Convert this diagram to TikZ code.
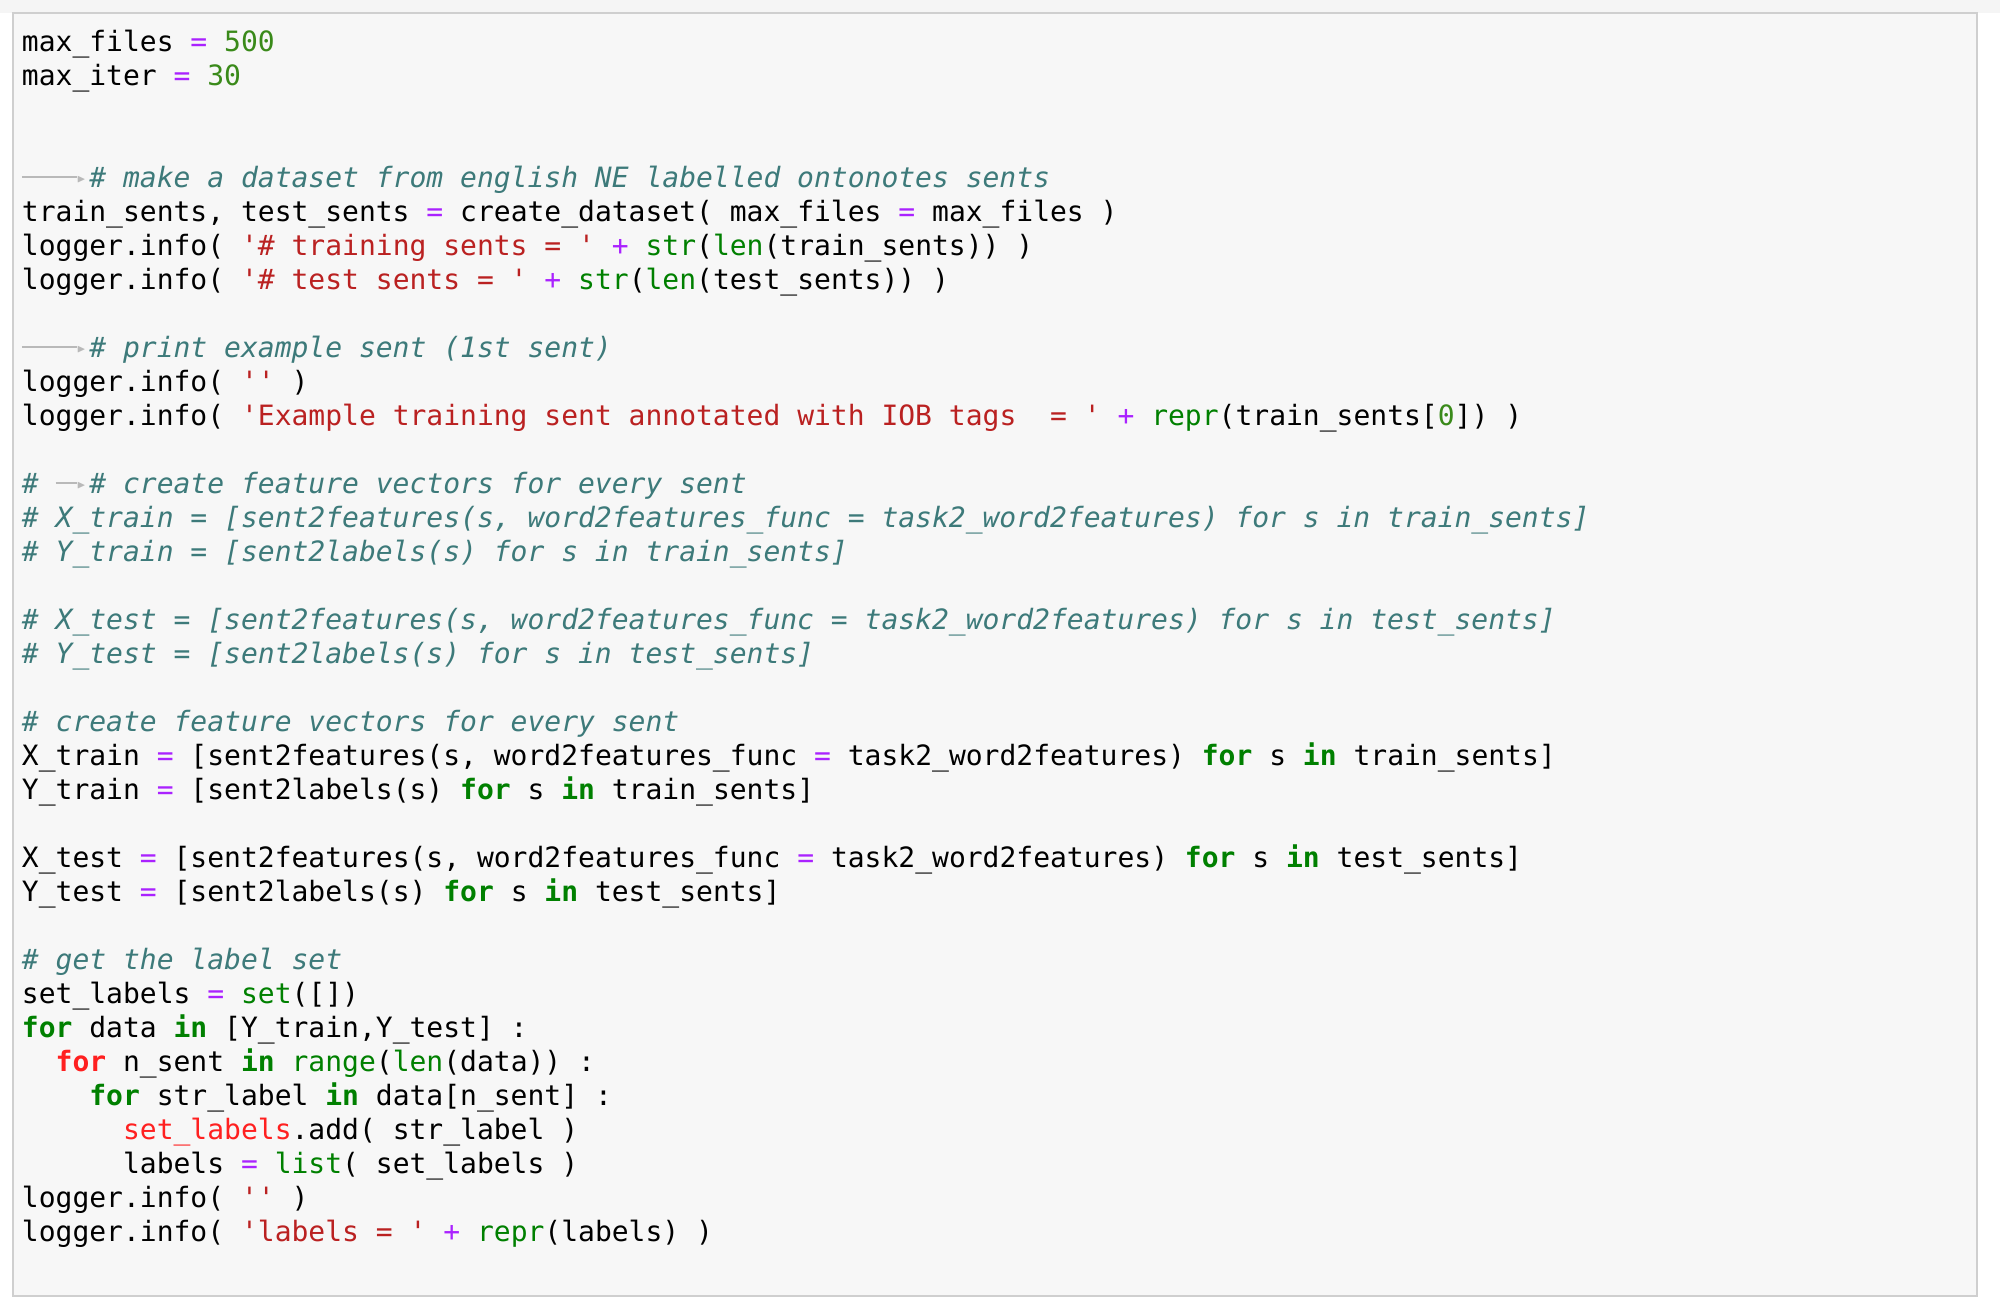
\documentclass[tikz,border=0pt]{standalone}
\usepackage{fontspec}
\setmonofont{DejaVu Sans Mono}
\definecolor{kwc}{HTML}{008000}
\definecolor{numc}{HTML}{3A8A1A}
\definecolor{opc}{HTML}{AA22FF}
\definecolor{strc}{HTML}{BA2121}
\definecolor{cmc}{HTML}{3D7A7A}
\definecolor{errc}{HTML}{FF2020}
\definecolor{boxbg}{HTML}{F7F7F7}
\definecolor{boxln}{HTML}{CFCFCF}
\newcommand\kw[1]{\textcolor{kwc}{\bfseries #1}}
\newcommand\bi[1]{\textcolor{kwc}{#1}}
\newcommand\nm[1]{\textcolor{numc}{#1}}
\newcommand\op[1]{\textcolor{opc}{#1}}
\newcommand\st[1]{\textcolor{strc}{#1}}
\newcommand\cm[1]{\textcolor{cmc}{\itshape #1}}
\newcommand\er[1]{\textcolor{errc}{#1}}
\newcommand\SP{\phantom{x}}
\newcommand\tabarr[1]{\makebox[#1em][l]{\textcolor{gray!55}{\rule[0.32em]{\dimexpr #1em - 0.45em\relax}{0.07em}\raisebox{0.18em}{\fontsize{9}{9}\selectfont$\blacktriangleright$}}}}
\usepackage{amssymb}
\begin{document}
\begin{tikzpicture}[x=1pt,y=-1pt,
  ln/.style={anchor=base west,inner sep=0pt,font=\ttfamily\fontsize{21.95}{26.7}\selectfont}]
\useasboundingbox (0,0) rectangle (1568,1018);
\fill[gray!8] (0,0) rectangle (1568,10);
\draw[boxln,fill=boxbg,line width=1.2pt] (10,10) rectangle (1550,1016);
\newcommand\LL[3]{\node[ln] (#1) at (17,{40+26.67*#2}) {#3};}
\LL{l0}{0}{max\_files \op{=} \nm{500}}
\LL{l1}{1}{max\_iter \op{=} \nm{30}}
\LL{l4}{4}{\tabarr{2.408}\cm{\# make a dataset from english NE labelled ontonotes sents}}
\LL{l5}{5}{train\_sents, test\_sents \op{=} create\_dataset( max\_files \op{=} max\_files )}
\LL{l6}{6}{logger.info( \st{'\# training sents = '} \op{+} \bi{str}(\bi{len}(train\_sents)) )}
\LL{l7}{7}{logger.info( \st{'\# test sents = '} \op{+} \bi{str}(\bi{len}(test\_sents)) )}
\LL{l9}{9}{\tabarr{2.408}\cm{\# print example sent (1st sent)}}
\LL{l10}{10}{logger.info( \st{''} )}
\LL{l11}{11}{logger.info( \st{'Example training sent annotated with IOB tags\SP\SP= '} \op{+} \bi{repr}(train\_sents[\nm{0}]) )}
\LL{l13}{13}{\cm{\# \tabarr{1.204}\# create feature vectors for every sent}}
\LL{l14}{14}{\cm{\# X\_train = [sent2features(s, word2features\_func = task2\_word2features) for s in train\_sents]}}
\LL{l15}{15}{\cm{\# Y\_train = [sent2labels(s) for s in train\_sents]}}
\LL{l17}{17}{\cm{\# X\_test = [sent2features(s, word2features\_func = task2\_word2features) for s in test\_sents]}}
\LL{l18}{18}{\cm{\# Y\_test = [sent2labels(s) for s in test\_sents]}}
\LL{l20}{20}{\cm{\# create feature vectors for every sent}}
\LL{l21}{21}{X\_train \op{=} [sent2features(s, word2features\_func \op{=} task2\_word2features) \kw{for} s \kw{in} train\_sents]}
\LL{l22}{22}{Y\_train \op{=} [sent2labels(s) \kw{for} s \kw{in} train\_sents]}
\LL{l24}{24}{X\_test \op{=} [sent2features(s, word2features\_func \op{=} task2\_word2features) \kw{for} s \kw{in} test\_sents]}
\LL{l25}{25}{Y\_test \op{=} [sent2labels(s) \kw{for} s \kw{in} test\_sents]}
\LL{l27}{27}{\cm{\# get the label set}}
\LL{l28}{28}{set\_labels \op{=} \bi{set}([])}
\LL{l29}{29}{\kw{for} data \kw{in} [Y\_train,Y\_test] :}
\LL{l30}{30}{\SP\SP\textcolor{errc}{\bfseries for} n\_sent \kw{in} \bi{range}(\bi{len}(data)) :}
\LL{l31}{31}{\SP\SP\SP\SP\kw{for} str\_label \kw{in} data[n\_sent] :}
\LL{l32}{32}{\SP\SP\SP\SP\SP\SP\er{set\_labels}.add( str\_label )}
\LL{l33}{33}{\SP\SP\SP\SP\SP\SP labels \op{=} \bi{list}( set\_labels )}
\LL{l34}{34}{logger.info( \st{''} )}
\LL{l35}{35}{logger.info( \st{'labels = '} \op{+} \bi{repr}(labels) )}
\end{tikzpicture}
\end{document}
